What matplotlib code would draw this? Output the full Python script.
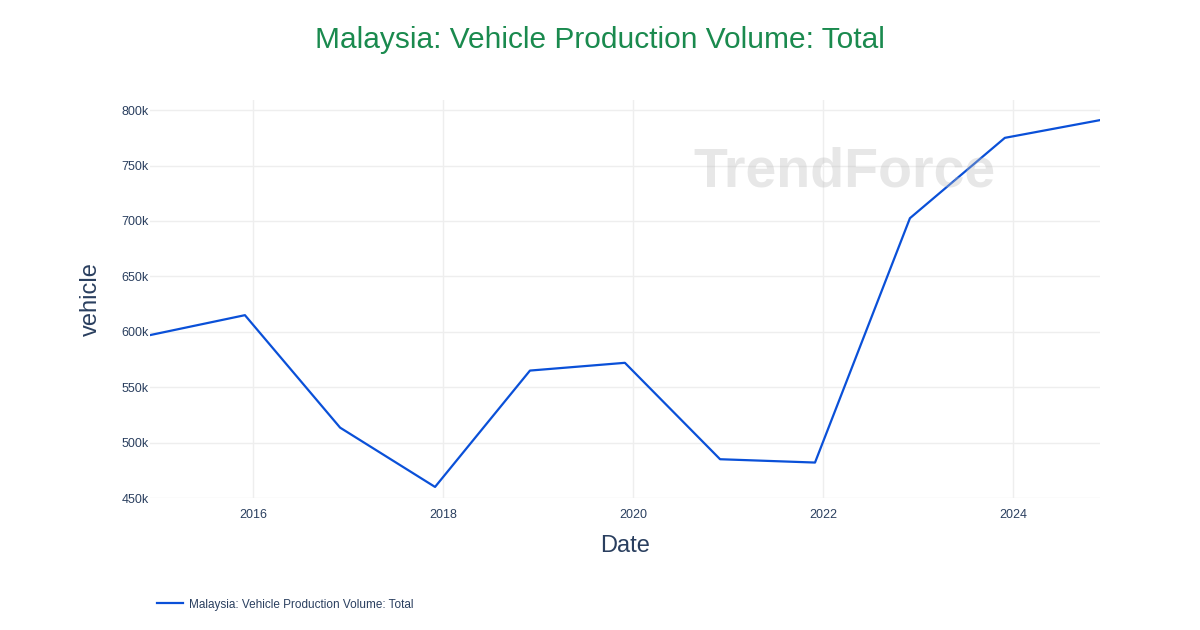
import matplotlib
matplotlib.use("Agg")
import matplotlib.pyplot as plt
import matplotlib.dates as mdates
import pandas as pd

# === Daten ===
dates = pd.to_datetime([f"{y}-12-01" for y in range(2014, 2025)])
values = [597, 615, 513.5, 460, 565, 572, 485, 482, 702.5, 775, 791]  # in k
series_name = "Malaysia: Vehicle Production Volume: Total"

plt.rcParams["font.family"] = ["Liberation Sans", "DejaVu Sans"]

fig = plt.figure(figsize=(12, 6.3), dpi=100)
ax = fig.add_axes([0.125, 0.2095, 0.7917, 0.6315])

ax.plot(dates, [v * 1000 for v in values], color="#0a50d8", linewidth=1.6, label=series_name)

ax.set_xlim(dates[0], dates[-1])
ax.set_ylim(450000, 809000)
ax.set_yticks(range(450000, 800001, 50000))
ax.set_yticklabels([f"{v // 1000}k" for v in range(450000, 800001, 50000)])
ax.xaxis.set_major_locator(mdates.YearLocator(2))
ax.xaxis.set_major_formatter(mdates.DateFormatter("%Y"))

ax.grid(True, color="#eeeeee", linewidth=1)
for s in ax.spines.values():
    s.set_visible(False)
ax.tick_params(length=0, labelsize=9, colors="#2a3f5f")
ax.tick_params(axis="y", pad=1)
ax.tick_params(axis="x", pad=8)

ax.set_xlabel("Date", fontsize=17, color="#2a3f5f", labelpad=10)
ax.set_ylabel("vehicle", fontsize=17, color="#2a3f5f", labelpad=14)

fig.text(0.5, 0.937, series_name, ha="center", va="center", fontsize=21.5, color="#1a8a4e")

# Wasserzeichen
fig.text(0.578, 0.726, "TrendForce", ha="left", va="center", fontsize=40,
         fontweight="bold", color="#bbbbbb", alpha=0.35)

fig.legend(loc="lower left", bbox_to_anchor=(0.122, 0.014), frameon=False,
           fontsize=8.5, labelcolor="#2a3f5f", handlelength=2.2, handletextpad=0.5)

fig.savefig("out.png", dpi=100)
